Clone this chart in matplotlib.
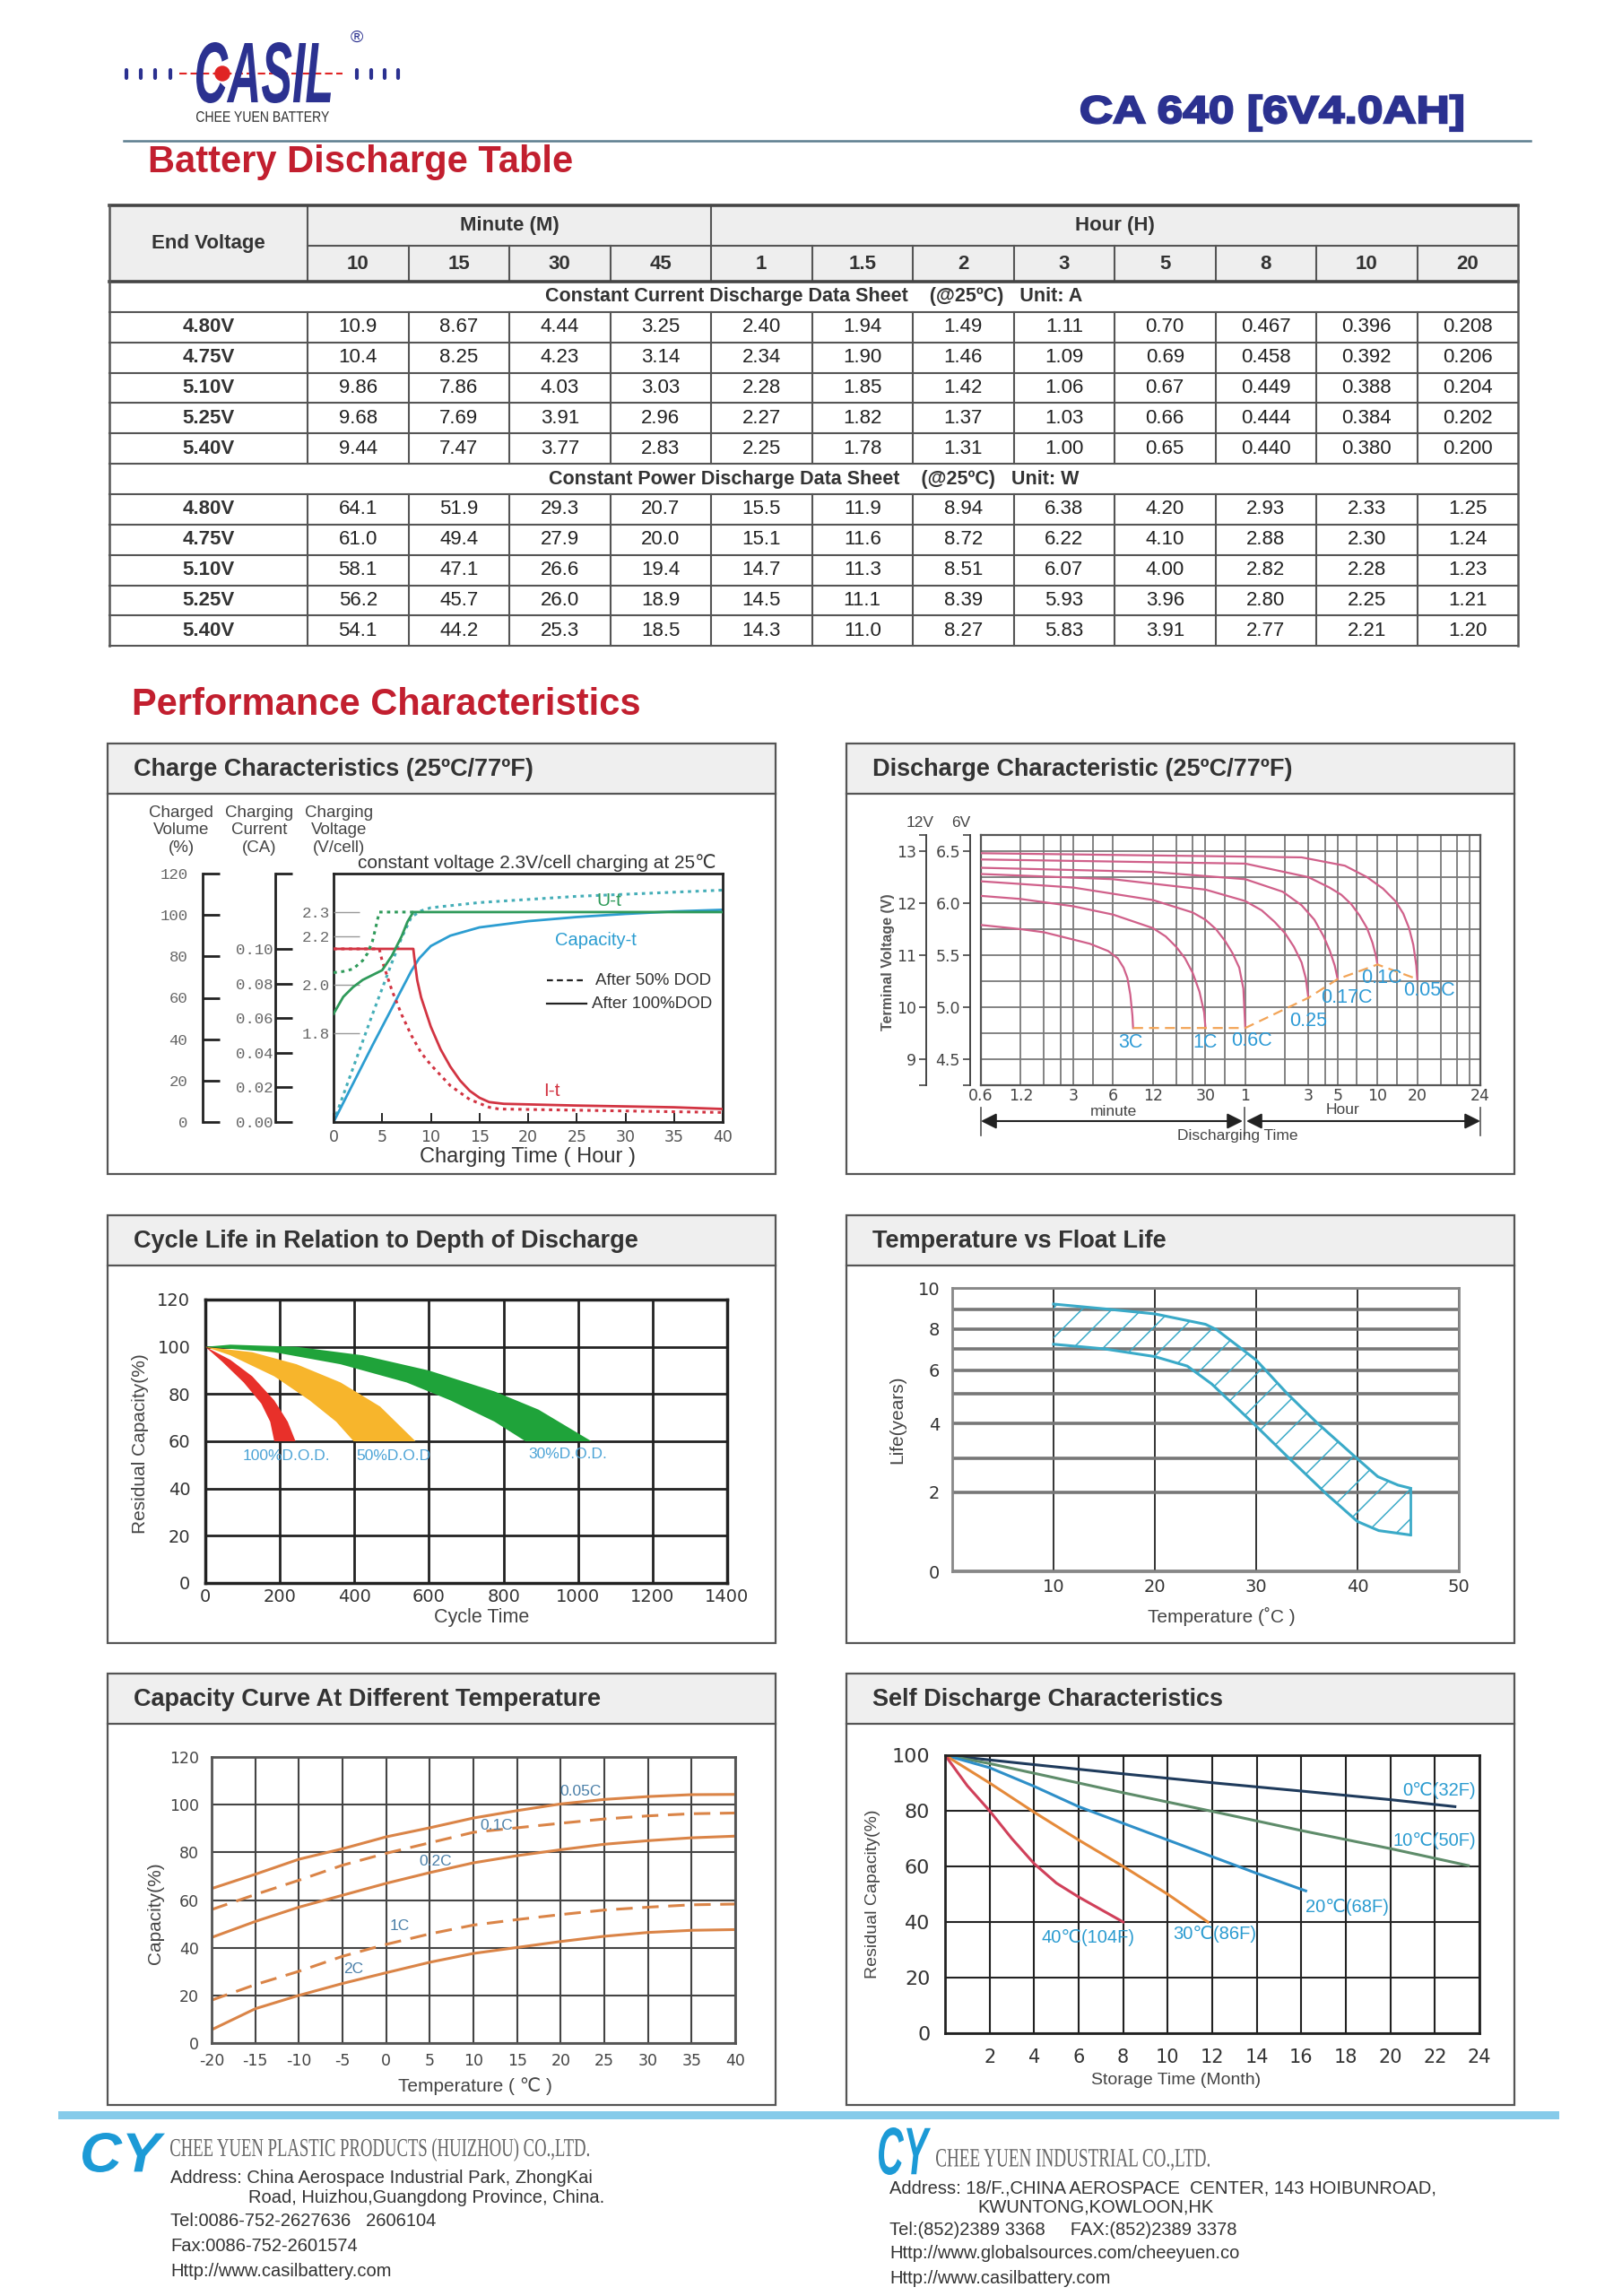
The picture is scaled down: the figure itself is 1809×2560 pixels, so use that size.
"""CA 640 datasheet page: discharge table plus six performance charts."""

import numpy as np
import matplotlib
matplotlib.use("Agg")
import matplotlib.pyplot as plt
from matplotlib.patches import Rectangle, Circle, PathPatch
from matplotlib.textpath import TextPath
from matplotlib.font_manager import FontProperties
from matplotlib.transforms import Affine2D
from matplotlib.ticker import NullFormatter

W, H = 1809, 2560
plt.rcParams["font.family"] = ["Liberation Sans", "DejaVu Sans"]
plt.rcParams["hatch.linewidth"] = 1.1
plt.rcParams["axes.unicode_minus"] = False

# ---- discharge table
COLS = ["10", "15", "30", "45", "1", "1.5", "2", "3", "5", "8", "10", "20"]
END_VOLTS = ["4.80V", "4.75V", "5.10V", "5.25V", "5.40V"]
CURRENT_A = [
    ["10.9", "8.67", "4.44", "3.25", "2.40", "1.94", "1.49", "1.11", "0.70", "0.467", "0.396", "0.208"],
    ["10.4", "8.25", "4.23", "3.14", "2.34", "1.90", "1.46", "1.09", "0.69", "0.458", "0.392", "0.206"],
    ["9.86", "7.86", "4.03", "3.03", "2.28", "1.85", "1.42", "1.06", "0.67", "0.449", "0.388", "0.204"],
    ["9.68", "7.69", "3.91", "2.96", "2.27", "1.82", "1.37", "1.03", "0.66", "0.444", "0.384", "0.202"],
    ["9.44", "7.47", "3.77", "2.83", "2.25", "1.78", "1.31", "1.00", "0.65", "0.440", "0.380", "0.200"],
]
POWER_W = [
    ["64.1", "51.9", "29.3", "20.7", "15.5", "11.9", "8.94", "6.38", "4.20", "2.93", "2.33", "1.25"],
    ["61.0", "49.4", "27.9", "20.0", "15.1", "11.6", "8.72", "6.22", "4.10", "2.88", "2.30", "1.24"],
    ["58.1", "47.1", "26.6", "19.4", "14.7", "11.3", "8.51", "6.07", "4.00", "2.82", "2.28", "1.23"],
    ["56.2", "45.7", "26.0", "18.9", "14.5", "11.1", "8.39", "5.93", "3.96", "2.80", "2.25", "1.21"],
    ["54.1", "44.2", "25.3", "18.5", "14.3", "11.0", "8.27", "5.83", "3.91", "2.77", "2.21", "1.20"],
]

# ---- charge characteristics (hours; % / CA / V per cell)
UT_T = [0, 1, 2, 3, 4, 5, 6, 7, 7.6, 8.2, 40]
UT_V = [1.88, 1.95, 1.99, 2.02, 2.04, 2.06, 2.12, 2.20, 2.26, 2.30, 2.30]
UT50_T = [0, 1, 2, 3, 3.5, 4, 4.3, 4.7, 8.2]
UT50_V = [2.05, 2.055, 2.065, 2.10, 2.13, 2.18, 2.23, 2.30, 2.30]
CAP_T = [0, 2, 4, 6, 7, 8, 8.8, 10, 12, 15, 20, 25, 30, 35, 40]
CAP = [0, 18.5, 37, 55, 64, 73, 79, 85, 90, 94, 97, 99, 100.5, 101.7, 102.5]
CAP50_T = [0, 2, 4, 6, 7, 8, 9, 10, 12, 15, 20, 25, 30, 35, 40]
CAP50 = [0, 26, 52, 77, 89, 99, 102, 103.5, 104.5, 106, 107.5, 109, 110, 111, 112]
IT_T = [0, 8.2, 8.3, 8.6, 9, 10, 11, 12, 13, 14, 15, 16, 17.5, 25, 35, 40]
IT_A = [0.1, 0.1, 0.095, 0.082, 0.072, 0.055, 0.042, 0.032, 0.024, 0.018, 0.014,
        0.0115, 0.0105, 0.0095, 0.0085, 0.0075]
IT50_T = [0, 4.7, 5, 6, 7, 8, 9, 10, 12, 14, 16, 17, 25, 40]
IT50_A = [0.1, 0.1, 0.093, 0.076, 0.062, 0.05, 0.04, 0.033, 0.021, 0.013, 0.0085,
          0.0075, 0.0068, 0.0055]
VOL_TICKS = [0, 20, 40, 60, 80, 100, 120]
CA_TICKS = [0.0, 0.02, 0.04, 0.06, 0.08, 0.10]
CA_LABELS = ["0.00", "0.02", "0.04", "0.06", "0.08", "0.10"]
CV_TICKS = [1.8, 2.0, 2.2, 2.3]
CHG_XTICKS = [0, 5, 10, 15, 20, 25, 30, 35, 40]

# ---- discharge characteristic (minutes, volts on 6V scale)
DC_RATES = ["3C", "1C", "0.6C", "0.25", "0.17C", "0.1C", "0.05C"]
DC_T = [
    [0.6, 1.2, 1.8, 3, 4, 5.5, 6.5, 7.2, 7.7, 8.1, 8.4, 8.5],
    [0.6, 1.2, 3, 6, 12, 15, 18, 21, 24, 27, 29.3, 30],
    [0.6, 3, 12, 24, 30, 36, 42, 48, 54, 58, 60],
    [0.6, 6, 30, 60, 80, 100, 120, 140, 160, 172, 180],
    [0.6, 12, 60, 115, 160, 200, 235, 262, 285, 300],
    [0.6, 60, 180, 260, 320, 380, 440, 500, 550, 585, 600],
    [0.6, 160, 340, 500, 660, 820, 940, 1040, 1120, 1180, 1200],
]
DC_V = [
    [5.79, 5.75, 5.72, 5.65, 5.61, 5.54, 5.47, 5.38, 5.28, 5.12, 4.92, 4.80],
    [6.07, 6.04, 5.97, 5.89, 5.76, 5.68, 5.58, 5.47, 5.33, 5.15, 4.95, 4.80],
    [6.21, 6.15, 6.03, 5.91, 5.84, 5.75, 5.64, 5.52, 5.38, 5.18, 4.80],
    [6.28, 6.23, 6.13, 6.02, 5.93, 5.82, 5.71, 5.58, 5.43, 5.28, 5.09],
    [6.34, 6.30, 6.23, 6.11, 5.98, 5.84, 5.68, 5.54, 5.40, 5.27],
    [6.42, 6.38, 6.25, 6.15, 6.08, 5.99, 5.88, 5.76, 5.62, 5.49, 5.41],
    [6.48, 6.44, 6.36, 6.25, 6.14, 6.02, 5.90, 5.76, 5.60, 5.40, 5.27],
]
DC_END_T = [8.5, 30, 60, 180, 300, 600, 1200]
DC_END_V = [4.80, 4.80, 4.80, 5.09, 5.27, 5.41, 5.27]
DC_TICKS = [0.6, 1.2, 3, 6, 12, 30, 60, 180, 300, 600, 1200, 3600]
DC_TICK_LABELS = ["0.6", "1.2", "3", "6", "12", "30", "1", "3", "5", "10", "20", "24"]
DC_GRID = [1.2, 1.8, 2.4, 3, 4.2, 6, 12, 18, 24, 30, 42, 60, 120, 180, 240, 300,
           420, 600, 840, 1200, 1800, 2400, 3000]
DC_6V_TICKS = [4.5, 5.0, 5.5, 6.0, 6.5]
DC_12V_TICKS = [9, 10, 11, 12, 13]

# ---- cycle life bands (cycles, %)
DOD_NAMES = ["100%D.O.D.", "50%D.O.D", "30%D.O.D."]
DOD_UP_X = [[0, 67, 126, 185, 221, 242],
            [0, 126, 245, 363, 469, 564],
            [0, 67, 245, 422, 599, 776, 894, 1036]]
DOD_UP_Y = [[100, 94.5, 87.5, 77.3, 68.3, 60],
            [100, 97.7, 92.6, 84.9, 74.7, 60],
            [100, 100.9, 100, 96.4, 90, 81.1, 73.4, 60]]
DOD_LO_X = [[0, 44, 103, 150, 174, 185],
            [0, 67, 185, 280, 351, 398],
            [0, 185, 363, 540, 658, 776, 859]]
DOD_LO_Y = [[100, 93.9, 84.9, 76, 68.3, 60],
            [100, 96.4, 87.5, 77.3, 68.3, 60],
            [100, 97.7, 92.6, 84.9, 77.3, 68.3, 60]]

# ---- float life (deg C, years) on the sheet's uneven year axis
LIFE_AXIS = [0, 2, 3, 4, 5, 6, 7, 8, 9, 10]
LIFE_POS = [0, 0.279, 0.399, 0.521, 0.627, 0.709, 0.785, 0.856, 0.924, 1.0]
FL_UP_T = [10, 15, 20, 25, 26.1, 30, 33, 36, 40, 42, 44, 45.2]
FL_UP = [9.25, 9.03, 8.77, 8.23, 7.95, 6.48, 5.03, 4.03, 2.98, 2.46, 2.21, 2.12]
FL_LO_T = [10, 15, 20, 23.2, 25.6, 30, 33, 37, 40, 42.1, 45.2]
FL_LO = [7.23, 7.0, 6.64, 6.2, 5.42, 3.93, 3.07, 1.94, 1.26, 1.03, 0.92]

# ---- capacity vs temperature
CT_T = [-20, -15, -10, -5, 0, 5, 10, 15, 20, 25, 30, 35, 40]
CT_005 = [64.8, 70.8, 77.1, 81.5, 86.5, 90.3, 94.4, 97.5, 100.3, 102.2, 103.4, 104.2, 104.3]
CT_01 = [56, 62.3, 68.3, 74.6, 79.6, 84, 88.4, 90.3, 92.2, 94, 95.3, 96.2, 96.5]
CT_02 = [44.3, 51, 57, 62, 67, 71.5, 75.6, 78.6, 81.1, 83.4, 84.9, 86.1, 86.8]
CT_1 = [18, 24.5, 30.1, 36.4, 41.4, 45.8, 49.5, 51.8, 53.9, 55.8, 57, 58, 58.3]
CT_2 = [5.6, 14.4, 20, 25, 29.5, 33.9, 37.6, 40.1, 42.6, 44.8, 46.4, 47.3, 47.6]

# ---- self discharge (months, %)
SD_0_T = [0, 4, 8, 12, 16, 20, 22.9]
SD_0 = [100, 96.6, 93.3, 90.1, 87.1, 84.0, 81.5]
SD_10_T = [0, 2, 4, 8, 12, 16, 20, 23.5]
SD_10 = [100, 97, 93.5, 86.5, 79.8, 72.9, 66.4, 60.3]
SD_20_T = [0, 2, 4, 6, 8, 10, 12, 14, 16.2]
SD_20 = [100, 95.5, 88.8, 81.5, 75.5, 69.5, 63.5, 57.5, 51.2]
SD_30_T = [0, 2, 4, 6, 8, 10, 11.8]
SD_30 = [100, 90, 79.5, 69.5, 60, 50, 40]
SD_40_T = [0, 1, 2, 3, 4, 5, 6, 7, 8]
SD_40 = [100, 89, 80, 70, 61, 54, 49, 44.5, 40]

NAVY = "#2B3190"
RED = "#C21F2F"
TXT = "#333333"


def frac(l, t, r, b):
    return [l / W, 1 - b / H, (r - l) / W, (b - t) / H]


fig = plt.figure(figsize=(W / 100, H / 100), dpi=100)
# page layer in pixel coords, kept above the chart axes so labels show
pg = fig.add_axes([0, 0, 1, 1])
pg.set_xlim(0, W); pg.set_ylim(H, 0); pg.axis("off")
pg.set_zorder(10)


def squeezed(s, x0, y_bot, width, height, color, lw=0, **font):
    # text path forced into a given ink box (logo lettering is very condensed)
    tp = TextPath((0, 0), s, size=100, prop=FontProperties(**font))
    bb = tp.get_extents()
    tr = (Affine2D().translate(-bb.x0, -bb.y0)
          .scale(width / bb.width, -height / bb.height)
          .translate(x0, y_bot) + pg.transData)
    pg.add_patch(PathPatch(tp, transform=tr, fc=color, ec=color if lw else "none",
                           lw=lw, zorder=3))


def txt(x, y, s, size, **kw):
    kw.setdefault("color", TXT)
    kw.setdefault("va", "center")
    return pg.text(x, y, s, fontsize=size, **kw)


# ---- header
for x in (141, 157, 173, 190, 398, 414, 429, 444):
    pg.plot([x, x], [78, 87], color=NAVY, lw=3, solid_capstyle="round")
pg.plot([200, 382], [82, 82], color="#E02424", lw=1.5, ls=(0, (4, 2)))
squeezed("CASIL", 219, 115, 150, 68, NAVY, family="Liberation Sans",
         weight="bold", style="italic")
pg.add_patch(Circle((248, 82), 8, color="#E02424", zorder=4))
txt(398, 42, "®", 14, color=NAVY, ha="center")
squeezed("CHEE YUEN BATTERY", 219, 136, 148, 12, TXT, family="Liberation Sans")
squeezed("CA 640 [6V4.0AH]", 1206, 146, 425, 40, NAVY, lw=1.6, family="Liberation Sans",
         weight="bold")
pg.plot([138, 1707], [157, 157], color="#5C7D8E", lw=1.8)
txt(165, 181, "Battery Discharge Table", 30, fontweight="bold", color=RED)
txt(147, 786, "Performance Characteristics", 30, fontweight="bold", color=RED)

# ---- discharge table
T_L, T_R, T_C1 = 122, 1693, 343
T_TOP, T_SPLIT, T_HEAD = 229, 274, 314
ROW_H = 33.85
col_w = (T_R - T_C1) / len(COLS)
col_x = [T_C1 + i * col_w for i in range(len(COLS) + 1)]
pg.add_patch(Rectangle((T_L, T_TOP), T_R - T_L, T_HEAD - T_TOP, fc="#EEEEEE", ec="none"))
txt((T_L + T_C1) / 2, (T_TOP + T_HEAD) / 2, "End Voltage", 16, fontweight="bold", ha="center")
txt((col_x[0] + col_x[4]) / 2, (T_TOP + T_SPLIT) / 2, "Minute (M)", 16, fontweight="bold", ha="center")
txt((col_x[4] + col_x[-1]) / 2, (T_TOP + T_SPLIT) / 2, "Hour (H)", 16, fontweight="bold", ha="center")
for i, c in enumerate(COLS):
    txt((col_x[i] + col_x[i + 1]) / 2, (T_SPLIT + T_HEAD) / 2 + 1, c, 16, ha="center",
        fontweight="bold")
pg.plot([T_C1, T_R], [T_SPLIT, T_SPLIT], color="#555", lw=1.5)
for x in col_x[:-1]:
    top = T_TOP if x in (col_x[0], col_x[4]) else T_SPLIT
    pg.plot([x, x], [top, T_HEAD], color="#555", lw=1.5)
pg.plot([T_L, T_R], [T_TOP, T_TOP], color="#444", lw=2.6)
pg.plot([T_L, T_R], [T_HEAD, T_HEAD], color="#444", lw=2.6)

sections = [("Constant Current Discharge Data Sheet    (@25ºC)   Unit: A", CURRENT_A),
            ("Constant Power Discharge Data Sheet    (@25ºC)   Unit: W", POWER_W)]
y = T_HEAD
for title, block in sections:
    txt((T_L + T_R) / 2, y + ROW_H / 2, title, 15.5, fontweight="bold", ha="center")
    y += ROW_H
    pg.plot([T_L, T_R], [y, y], color="#555", lw=1.5)
    for lab, row in zip(END_VOLTS, block):
        txt((T_L + T_C1) / 2, y + ROW_H / 2, lab, 16, fontweight="bold", ha="center")
        for i, v in enumerate(row):
            txt((col_x[i] + col_x[i + 1]) / 2, y + ROW_H / 2, v, 16, ha="center", color="#222")
        for x in col_x[:-1]:
            pg.plot([x, x], [y, y + ROW_H], color="#555", lw=1.5)
        y += ROW_H
        pg.plot([T_L, T_R], [y, y], color="#555", lw=1.5)
pg.plot([T_L, T_L], [T_TOP, y], color="#555", lw=1.8)
pg.plot([T_R, T_R], [T_TOP, y], color="#555", lw=1.8)

# ---- panels
PANELS = [
    (120, 829, 865, 1309, "Charge Characteristics (25ºC/77ºF)"),
    (944, 829, 1689, 1309, "Discharge Characteristic (25ºC/77ºF)"),
    (120, 1355, 865, 1832, "Cycle Life in Relation to Depth of Discharge"),
    (944, 1355, 1689, 1832, "Temperature vs Float Life"),
    (120, 1866, 865, 2347, "Capacity Curve At Different Temperature"),
    (944, 1866, 1689, 2347, "Self Discharge Characteristics"),
]
for l, t, r, b, title in PANELS:
    pg.add_patch(Rectangle((l, t), r - l, 56, fc="#EFEFEF", ec="none"))
    pg.add_patch(Rectangle((l, t), r - l, b - t, fc="none", ec="#555", lw=1.6))
    pg.plot([l, r], [t + 56, t + 56], color="#555", lw=1.6)
    txt(l + 29, t + 29, title, 19.5, fontweight="bold")

GREEN, CAPC, CAPD, IRED = "#2F9A5A", "#2C9DD1", "#45AEB8", "#D23442"

# ---- 1. charge characteristics
ax = fig.add_axes(frac(372, 974, 806, 1251))
ax.set_xlim(0, 40); ax.set_ylim(0, 120)
ax.set_xticks(CHG_XTICKS); ax.set_yticks([])
ax.tick_params(axis="x", direction="in", length=7, width=1.2, labelsize=12.5, pad=6,
               labelcolor="#555", labelfontfamily="DejaVu Sans")
for s in ax.spines.values():
    s.set_linewidth(2); s.set_color("#222")
ax.plot(CAP50_T, CAP50, color=CAPD, lw=2.2, ls=(0, (1.2, 1.6)))
ax.plot(CAP_T, CAP, color=CAPC, lw=2)
I_TOP = 0.1435
ax_i = ax.twinx(); ax_i.set_ylim(0, I_TOP); ax_i.axis("off")
ax_i.plot(IT50_T, IT50_A, color=IRED, lw=2.2, ls=(0, (1.2, 1.6)))
ax_i.plot(IT_T, IT_A, color=IRED, lw=2)
ax_u = ax.twinx(); ax_u.set_ylim(1.4334, 2.459)
ax_u.yaxis.tick_left()
for s in ax_u.spines.values():
    s.set_visible(False)
ax_u.set_yticks(CV_TICKS, labels=[f"{v:.1f}" for v in CV_TICKS])
ax_u.tick_params(axis="y", direction="in", length=21, width=1, color="#999",
                 labelsize=12.5, pad=3, labelcolor="#666", labelfontfamily="Liberation Mono")
ax_u.plot(UT50_T, UT50_V, color=GREEN, lw=2.2, ls=(0, (1.2, 1.6)))
ax_u.plot(UT_T, UT_V, color=GREEN, lw=2)

sv = fig.add_axes(frac(226, 974, 240, 1251))
sv.set_ylim(0, 120); sv.set_xticks([]); sv.set_yticks(VOL_TICKS)
sc = fig.add_axes(frac(307, 974, 322, 1251))
sc.set_ylim(0, I_TOP); sc.set_xticks([])
sc.set_yticks(CA_TICKS + [I_TOP], labels=CA_LABELS + [""])
for a in (sv, sc):
    a.patch.set_visible(False)
    for k in ("top", "right", "bottom"):
        a.spines[k].set_visible(False)
    a.spines["left"].set_linewidth(2); a.spines["left"].set_color("#222")
    a.tick_params(axis="y", direction="in", length=14, width=2, color="#222",
                  labelsize=12.5, labelcolor="#666", labelfontfamily="Liberation Mono")
sv.tick_params(axis="y", pad=12)
sc.tick_params(axis="y", pad=2)

txt(202, 926, "Charged\nVolume\n(%)", 13.5, ha="center", linespacing=1.2, color="#444")
txt(289, 926, "Charging\nCurrent\n(CA)", 13.5, ha="center", linespacing=1.2, color="#444")
txt(378, 926, "Charging\nVoltage\n(V/cell)", 13.5, ha="center", linespacing=1.2, color="#444")
txt(399, 962, "constant voltage 2.3V/cell charging at 25℃", 15)
txt(588, 1290, "Charging Time ( Hour )", 17, ha="center")
txt(679, 1004, "U-t", 15, color=GREEN, ha="center")
txt(664, 1049, "Capacity-t", 14.5, color=CAPC, ha="center")
txt(615, 1217, "I-t", 15, color=IRED, ha="center")
pg.plot([610, 654], [1093, 1093], color="#222", lw=1.6, ls=(0, (3, 2)))
pg.plot([610, 654], [1119, 1119], color="#222", lw=1.6)
txt(664, 1093, "After 50% DOD", 13.5)
txt(660, 1119, "After 100%DOD", 13.5)

# ---- 2. discharge characteristic
V_BOT, V_TOP = 4.25, 6.655
ax = fig.add_axes(frac(1094, 931, 1651, 1210))
ax.set_xscale("log"); ax.set_xlim(0.6, 3600); ax.set_ylim(V_BOT, V_TOP)
ax.set_xticks(DC_TICKS, labels=DC_TICK_LABELS)
ax.set_xticks(DC_GRID, minor=True)
ax.xaxis.set_minor_formatter(NullFormatter())
ax.set_yticks(np.arange(4.5, 6.51, 0.25))
ax.tick_params(axis="y", left=False, labelleft=False)
ax.tick_params(axis="x", which="both", length=0, labelsize=12.5, pad=2,
               labelcolor="#444", labelfontfamily="DejaVu Sans")
ax.grid(True, which="both", color="#7A7A7A", lw=1.3)
for s in ax.spines.values():
    s.set_color("#555"); s.set_linewidth(1.6)
for tt, vv in zip(DC_T, DC_V):
    ax.plot(tt, vv, color="#D0608A", lw=1.6, zorder=3)
ax.plot(DC_END_T, DC_END_V, color="#F2A457", lw=1.6, ls=(0, (5, 3)), zorder=3)
DC_LAB_XY = [(1261, 1162), (1344, 1162), (1396, 1161), (1459, 1139),
             (1502, 1112), (1541, 1090), (1594, 1105)]
for name, (x, yy) in zip(DC_RATES, DC_LAB_XY):
    txt(x, yy, name, 15.5, color="#2E9BD6", ha="center")
s6 = ax.secondary_yaxis(-12 / 557)
s6.set_yticks(DC_6V_TICKS + [V_BOT, V_TOP],
              labels=[f"{v:.1f}" for v in DC_6V_TICKS] + ["", ""])
s12 = ax.secondary_yaxis(-61 / 557, functions=(lambda v: 2 * v, lambda v: v / 2))
s12.set_yticks(DC_12V_TICKS + [2 * V_BOT, 2 * V_TOP],
               labels=[str(v) for v in DC_12V_TICKS] + ["", ""])
for s in (s6, s12):
    s.spines["left"].set_color("#444"); s.spines["left"].set_linewidth(1.4)
    s.tick_params(axis="y", direction="out", length=6, width=1.2, color="#444",
                  labelsize=12.5, pad=2, labelcolor="#444", labelfontfamily="DejaVu Sans")
txt(1026, 918, "12V", 12.5, ha="center", color="#444")
txt(1072, 918, "6V", 12.5, ha="center", color="#444")
txt(990, 1073, "Terminal Voltage (V)", 11.5, rotation=90, ha="center",
    fontweight="bold", color="#555")
arrow = dict(arrowstyle="<|-|>", color="#222", lw=1.5, mutation_scale=26,
             shrinkA=0, shrinkB=0)
pg.annotate("", xy=(1094, 1250), xytext=(1386, 1250), arrowprops=arrow)
pg.annotate("", xy=(1390, 1250), xytext=(1651, 1250), arrowprops=arrow)
for x in (1094, 1388, 1651):
    pg.plot([x, x], [1235, 1266], color="#555", lw=1.2)
txt(1242, 1239, "minute", 12.5, ha="center", color="#444")
txt(1498, 1238, "Hour", 12.5, ha="center", color="#444")
txt(1380, 1267, "Discharging Time", 12.5, ha="center", color="#444")

# ---- 3. cycle life
ax = fig.add_axes(frac(229, 1449, 811, 1765))
ax.set_xlim(0, 1400); ax.set_ylim(0, 120)
ax.set_xticks(range(0, 1401, 200)); ax.set_yticks(range(0, 121, 20))
ax.grid(True, color="#222", lw=2)
ax.tick_params(length=0, labelsize=14, labelcolor="#333", labelfontfamily="DejaVu Sans")
ax.tick_params(axis="x", pad=4); ax.tick_params(axis="y", pad=12)
for s in ax.spines.values():
    s.set_color("#222"); s.set_linewidth(2.5)
for ux, uy, lx, ly, col in zip(DOD_UP_X, DOD_UP_Y, DOD_LO_X, DOD_LO_Y,
                               ["#E8302A", "#F7B52C", "#1FA33A"]):
    ax.fill(ux + lx[::-1], uy + ly[::-1], color=col, lw=0, zorder=3)
for name, (x, yy) in zip(DOD_NAMES, [(319, 1623), (439, 1623), (633, 1621)]):
    txt(x, yy, name, 12.5, color="#4BA3D6", ha="center")
txt(157, 1610, "Residual Capacity(%)", 15, rotation=90, ha="center", color="#444")
txt(537, 1803, "Cycle Time", 15.5, ha="center", color="#444")

# ---- 4. temperature vs float life
ax = fig.add_axes(frac(1062, 1436, 1627, 1752))
fwd = lambda v: np.interp(v, LIFE_AXIS, LIFE_POS)
inv = lambda p: np.interp(p, LIFE_POS, LIFE_AXIS)
ax.set_yscale("function", functions=(fwd, inv))
ax.set_xlim(0, 50); ax.set_ylim(0, 10)
ax.set_xticks([10, 20, 30, 40, 50])
ax.set_yticks([0, 2, 4, 6, 8, 10])
ax.set_yticks([3, 5, 7, 9], minor=True)
ax.yaxis.set_minor_formatter(NullFormatter())
ax.yaxis.grid(True, which="both", color="#777", lw=2.6)
ax.xaxis.grid(True, color="#333", lw=1.4)
ax.tick_params(which="both", length=0, labelsize=14, labelcolor="#333",
               labelfontfamily="DejaVu Sans")
ax.tick_params(axis="x", pad=6); ax.tick_params(axis="y", pad=10)
for s in ax.spines.values():
    s.set_color("#888"); s.set_linewidth(2)
ax.fill(FL_UP_T + FL_LO_T[::-1], FL_UP + FL_LO[::-1], fc="none", ec="#3AAAC8",
        lw=0, hatch="/", zorder=3)
ax.plot(FL_UP_T, FL_UP, color="#3AAAC8", lw=2.2, zorder=4)
ax.plot(FL_LO_T, FL_LO, color="#3AAAC8", lw=2.2, zorder=4)
ax.plot([FL_UP_T[-1], FL_LO_T[-1]], [FL_UP[-1], FL_LO[-1]], color="#3AAAC8", lw=2, zorder=4)
txt(1001, 1583, "Life(years)", 15, rotation=90, ha="center", color="#444")
txt(1362, 1802, "Temperature (˚C )", 15, ha="center", color="#444")

# ---- 5. capacity vs temperature
ax = fig.add_axes(frac(236, 1959, 820, 2278))
ax.set_xlim(-20, 40); ax.set_ylim(0, 120)
ax.set_xticks(range(-20, 41, 5)); ax.set_yticks(range(0, 121, 20))
ax.grid(True, color="#444", lw=1.5)
ax.tick_params(length=0, labelsize=12.5, labelcolor="#444", labelfontfamily="DejaVu Sans")
ax.tick_params(axis="x", pad=8); ax.tick_params(axis="y", pad=10)
for s in ax.spines.values():
    s.set_color("#555"); s.set_linewidth(2)
ORANGE = "#DA8447"
ax.plot(CT_T, CT_005, color=ORANGE, lw=2.2)
ax.plot(CT_T, CT_01, color=ORANGE, lw=2.2, ls=(0, (6, 3.5)))
ax.plot(CT_T, CT_02, color=ORANGE, lw=2.2)
ax.plot(CT_T, CT_1, color=ORANGE, lw=2.2, ls=(0, (6, 3.5)))
ax.plot(CT_T, CT_2, color=ORANGE, lw=2.2)
for name, (x, yy) in zip(["0.05C", "0.1C", "0.2C", "1C", "2C"],
                         [(648, 1998), (554, 2036), (486, 2075), (446, 2148), (394, 2196)]):
    txt(x, yy, name, 12.5, color="#4A7FA8", ha="center")
txt(174, 2133, "Capacity(%)", 15, rotation=90, ha="center", color="#444")
txt(530, 2326, "Temperature ( ℃ )", 15, ha="center", color="#444")

# ---- 6. self discharge
ax = fig.add_axes(frac(1054, 1957, 1650, 2267))
ax.set_xlim(0, 24); ax.set_ylim(0, 100)
ax.set_xticks(range(2, 25, 2)); ax.set_yticks(range(0, 101, 20))
ax.grid(True, color="#222", lw=1.5)
ax.tick_params(length=0, labelcolor="#333", labelfontfamily="DejaVu Sans")
ax.tick_params(axis="x", labelsize=15, pad=12); ax.tick_params(axis="y", labelsize=16, pad=12)
for s in ax.spines.values():
    s.set_color("#222"); s.set_linewidth(2)
ax.plot(SD_0_T, SD_0, color="#1F3B5C", lw=2.2)
ax.plot(SD_10_T, SD_10, color="#5E8C6A", lw=2.2)
ax.plot(SD_20_T, SD_20, color="#2E8FC8", lw=2.2)
ax.plot(SD_30_T, SD_30, color="#E58A3A", lw=2.2)
ax.plot(SD_40_T, SD_40, color="#D0405A", lw=2.2)
for name, (x, yy) in zip(["0℃(32F)", "10℃(50F)", "20℃(68F)", "30℃(86F)", "40℃(104F)"],
                         [(1605, 1996), (1600, 2052), (1502, 2127), (1355, 2157), (1213, 2161)]):
    txt(x, yy, name, 14.5, color="#2A9BD0", ha="center")
txt(974, 2112, "Residual Capacity(%)", 14, rotation=90, ha="center", color="#444")
txt(1312, 2320, "Storage Time (Month)", 14, ha="center", color="#444")

# ---- footer
pg.add_patch(Rectangle((65, 2354), 1674, 9, fc="#86CBEA", ec="none"))
squeezed("CY", 92, 2422, 92, 44, "#1C9AD6", family="Liberation Sans",
         weight="bold", style="italic")
squeezed("CHEE YUEN PLASTIC PRODUCTS (HUIZHOU) CO.,LTD.", 190, 2410, 467, 26,
         "#666", family="Liberation Serif")
txt(190, 2428, "Address: China Aerospace Industrial Park, ZhongKai", 14.5)
txt(277, 2450, "Road, Huizhou,Guangdong Province, China.", 14.5)
txt(190, 2477, "Tel:0086-752-2627636   2606104", 14.5)
txt(190, 2504, "Fax:0086-752-2601574", 14.5)
txt(190, 2532, "Http://www.casilbattery.com", 14.5)
squeezed("CY", 980, 2425, 58, 53, "#1C9AD6", family="Liberation Sans",
         weight="bold", style="italic")
squeezed("CHEE YUEN INDUSTRIAL CO.,LTD.", 1044, 2420, 305, 24, "#666",
         family="Liberation Serif")
txt(992, 2440, "Address: 18/F.,CHINA AEROSPACE  CENTER, 143 HOIBUNROAD,", 14.5)
txt(1090, 2461, "KWUNTONG,KOWLOON,HK", 14.5)
txt(992, 2486, "Tel:(852)2389 3368     FAX:(852)2389 3378", 14.5)
txt(992, 2513, "Http://www.globalsources.com/cheeyuen.co", 14.5)
txt(992, 2540, "Http://www.casilbattery.com", 14.5)

fig.savefig("out.png", dpi=100)
